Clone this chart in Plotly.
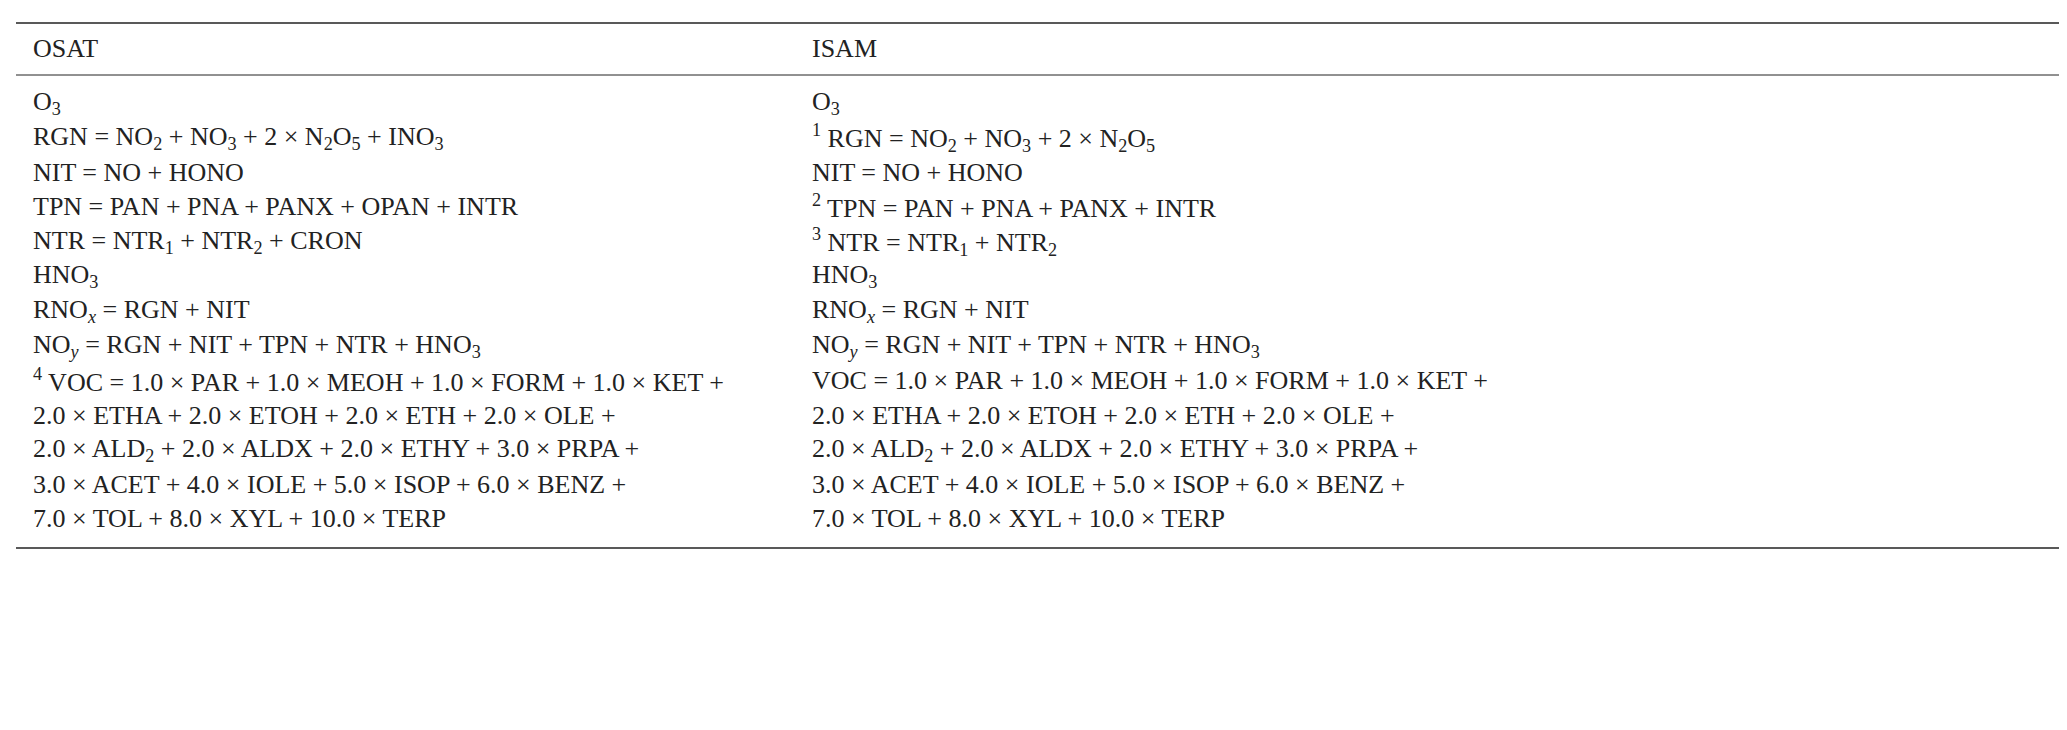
import plotly.graph_objects as go

W, H = 2067, 730

headers = ["OSAT", "ISAM"]

osat_rows = [
    "O<sub>3</sub>",
    "RGN = NO<sub>2</sub> + NO<sub>3</sub> + 2 × N<sub>2</sub>O<sub>5</sub> + INO<sub>3</sub>",
    "NIT = NO + HONO",
    "TPN = PAN + PNA + PANX + OPAN + INTR",
    "NTR = NTR<sub>1</sub> + NTR<sub>2</sub> + CRON",
    "HNO<sub>3</sub>",
    "RNO<sub><i>x</i></sub> = RGN + NIT",
    "NO<sub><i>y</i></sub> = RGN + NIT + TPN + NTR + HNO<sub>3</sub>",
    "<sup>4</sup> VOC = 1.0 × PAR + 1.0 × MEOH + 1.0 × FORM + 1.0 × KET +",
    "2.0 × ETHA + 2.0 × ETOH + 2.0 × ETH + 2.0 × OLE +",
    "2.0 × ALD<sub>2</sub> + 2.0 × ALDX + 2.0 × ETHY + 3.0 × PRPA +",
    "3.0 × ACET + 4.0 × IOLE + 5.0 × ISOP + 6.0 × BENZ +",
    "7.0 × TOL + 8.0 × XYL + 10.0 × TERP",
]

isam_rows = [
    "O<sub>3</sub>",
    "<sup>1</sup> RGN = NO<sub>2</sub> + NO<sub>3</sub> + 2 × N<sub>2</sub>O<sub>5</sub>",
    "NIT = NO + HONO",
    "<sup>2</sup> TPN = PAN + PNA + PANX + INTR",
    "<sup>3</sup> NTR = NTR<sub>1</sub> + NTR<sub>2</sub>",
    "HNO<sub>3</sub>",
    "RNO<sub><i>x</i></sub> = RGN + NIT",
    "NO<sub><i>y</i></sub> = RGN + NIT + TPN + NTR + HNO<sub>3</sub>",
    "VOC = 1.0 × PAR + 1.0 × MEOH + 1.0 × FORM + 1.0 × KET +",
    "2.0 × ETHA + 2.0 × ETOH + 2.0 × ETH + 2.0 × OLE +",
    "2.0 × ALD<sub>2</sub> + 2.0 × ALDX + 2.0 × ETHY + 3.0 × PRPA +",
    "3.0 × ACET + 4.0 × IOLE + 5.0 × ISOP + 6.0 × BENZ +",
    "7.0 × TOL + 8.0 × XYL + 10.0 × TERP",
]

font = dict(family="Liberation Serif", size=26, color="#222")
col_x = [23, 802]
header_y = 40
row0_y = 95
row_step = (511 - 95) / 12


def px(x):
    return x / W


def py(y):
    return 1 - y / H


fig = go.Figure()
ann = []
for cx, head, rows in zip(col_x, headers, [osat_rows, isam_rows]):
    ann.append(dict(x=px(cx), y=py(header_y), xref="paper", yref="paper", text=head,
                    showarrow=False, xanchor="left", yanchor="middle", font=font))
    for i, t in enumerate(rows):
        ann.append(dict(x=px(cx), y=py(row0_y + i * row_step), xref="paper", yref="paper",
                        text=t, showarrow=False, xanchor="left", yanchor="middle", font=font))

shapes = []
for y, w in [(15, 1.5), (67, 1), (540, 1.5)]:
    shapes.append(dict(type="line", xref="paper", yref="paper", x0=px(8), x1=px(2058),
                       y0=py(y), y1=py(y), line=dict(color="#222", width=w)))

fig.update_layout(width=W, height=H, margin=dict(l=0, r=0, t=0, b=0),
                  paper_bgcolor="white", plot_bgcolor="white",
                  xaxis=dict(visible=False), yaxis=dict(visible=False),
                  annotations=ann, shapes=shapes)
fig.write_html("out.html")
